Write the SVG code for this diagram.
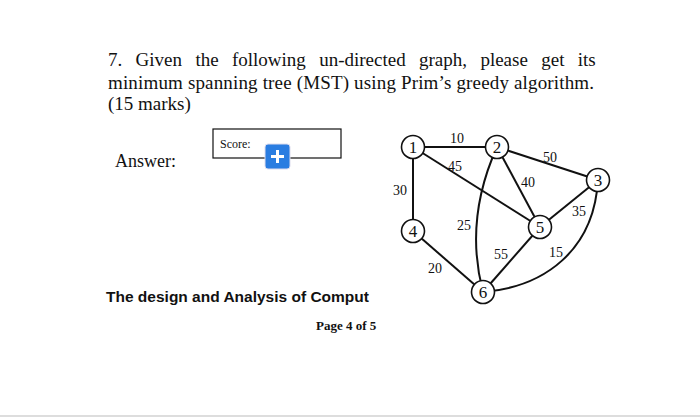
<svg xmlns="http://www.w3.org/2000/svg" width="700" height="420" viewBox="0 0 700 420">
<style>
.t{font-family:"Liberation Serif",serif;fill:#111}
.q{font-size:19px}
.w{font-size:14px}
.e{stroke:#111;stroke-width:2;fill:none}
.n circle{fill:#fff;stroke:#111;stroke-width:1.6}
.n text{font-family:"Liberation Serif",serif;font-size:17px;text-anchor:middle;fill:#111}
</style>
<rect width="700" height="420" fill="#fff"/>
<text class="t q" x="108" y="66" word-spacing="8.6">7.   Given the following un-directed graph, please get its</text>
<text class="t q" x="108" y="89" textLength="486" lengthAdjust="spacing">minimum spanning tree (MST) using Prim’s greedy algorithm.</text>
<text class="t q" x="108" y="110">(15 marks)</text>
<text class="t" x="115" y="167" font-size="18">Answer:</text>
<rect x="213" y="129" width="128" height="29" fill="#fff" stroke="#111" stroke-width="1.2"/>
<text class="t" x="220" y="148" font-size="12">Score:</text>
<g id="plus"><rect x="265" y="144" width="25" height="25" rx="3" fill="#2a7de1" stroke="#dde" stroke-width="1"/><path d="M277.5 150v13M271 156.5h13" stroke="#fff" stroke-width="3"/></g>
<text x="106" y="302" font-family="Liberation Sans,sans-serif" font-weight="bold" font-size="15.5" fill="#111">The design and Analysis of Comput</text>
<text class="t" x="316" y="330" font-size="13" font-weight="bold">Page 4 of 5</text>
<g id="edges">
<line class="e" x1="413" y1="147" x2="497" y2="147"/>
<line class="e" x1="413" y1="147" x2="413" y2="231"/>
<line class="e" x1="413" y1="147" x2="540" y2="227"/>
<line class="e" x1="497" y1="147" x2="540" y2="227"/>
<line class="e" x1="497" y1="147" x2="598" y2="180"/>
<line class="e" x1="598" y1="180" x2="540" y2="227"/>
<line class="e" x1="413" y1="231" x2="483" y2="292"/>
<line class="e" x1="540" y1="227" x2="483" y2="292"/>
<path class="e" d="M497 147 Q464 220 483 292"/>
<path class="e" d="M598 180 C594 250 545 287 483 292"/>
<text class="t w" x="450" y="143">10</text>
<text class="t w" x="393" y="195">30</text>
<text class="t w" x="448" y="171">45</text>
<text class="t w" x="521" y="187">40</text>
<text class="t w" x="543" y="162">50</text>
<text class="t w" x="572" y="216">35</text>
<text class="t w" x="457" y="230">25</text>
<text class="t w" x="494" y="259">55</text>
<text class="t w" x="549" y="257">15</text>
<text class="t w" x="428" y="273">20</text>
</g>
<g id="n1" class="n"><circle cx="413" cy="147" r="11.5"/><text x="413" y="153">1</text></g>
<g id="n2" class="n"><circle cx="497" cy="147" r="11.5"/><text x="497" y="153">2</text></g>
<g id="n3" class="n"><circle cx="598" cy="180" r="11.5"/><text x="598" y="186">3</text></g>
<g id="n4" class="n"><circle cx="413" cy="231" r="11.5"/><text x="413" y="237">4</text></g>
<g id="n5" class="n"><circle cx="540" cy="227" r="11.5"/><text x="540" y="233">5</text></g>
<g id="n6" class="n"><circle cx="483" cy="292" r="11.5"/><text x="483" y="298">6</text></g>
<line x1="0" y1="416" x2="700" y2="416" stroke="#ddd" stroke-width="2"/>
</svg>
